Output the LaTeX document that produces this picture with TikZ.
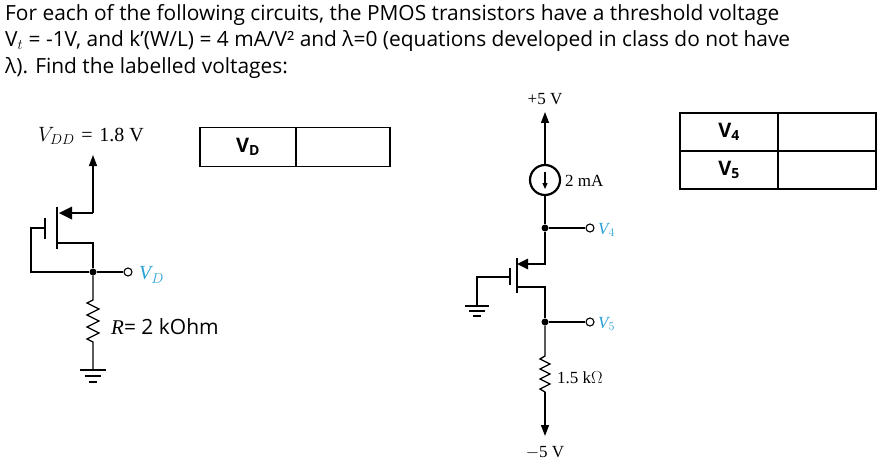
\documentclass[tikz,border=0pt]{standalone}
\usepackage{fontspec}
\setmainfont{Open Sans}
\newfontfamily\tms{Liberation Serif}
\usetikzlibrary{arrows.meta}
\definecolor{lblue}{RGB}{40,160,215}
\begin{document}
\begin{tikzpicture}[x=1pt,y=-1pt,
  wire/.style={line width=1.3pt},
  chan/.style={line width=2.8pt},
  supply/.style={wire,-{Triangle[length=11pt,width=8pt]}},
  dot/.style={circle,fill,inner sep=0pt,minimum size=7pt},
  open/.style={circle,draw,line width=1.1pt,fill=white,inner sep=0pt,minimum size=8pt},
  lbl/.style={font=\tms\fontsize{17}{19}\selectfont,inner sep=1pt},
  vlbl/.style={font=\tms\itshape\fontsize{20}{22}\selectfont,text=lblue,anchor=west,inner sep=1pt},
  hdr/.style={font=\fontsize{20.9}{24}\selectfont,anchor=west,inner sep=0pt},
  cell/.style={draw,line width=1.2pt,minimum height=39pt,font=\bfseries\fontsize{20}{22}\selectfont}]
\useasboundingbox (0,0) rectangle (886,476);
% header
\node[hdr] (h1) at (5,15) {For each of the following circuits, the PMOS transistors have a threshold voltage};
\node[hdr] (h2) at (5,41) {V$_t$ = -1V, and k’(W/L) = 4 mA/V² and λ=0 (equations developed in class do not have};
\node[hdr] (h3) at (5,68) {λ). Find the labelled voltages:};
% tables
\node[cell,minimum width=96pt] (td) at (248,147) {V$_\mathbf{D}$};
\node[cell,minimum width=94pt] (tdv) at (343,147) {};
\node[cell,minimum width=98pt,minimum height=38pt] (t4) at (729,132) {V$_\mathbf{4}$};
\node[cell,minimum width=98pt,minimum height=38pt] (t4v) at (827,132) {};
\node[cell,minimum width=98pt,minimum height=38pt] (t5) at (729,170) {V$_\mathbf{5}$};
\node[cell,minimum width=98pt,minimum height=38pt] (t5v) at (827,170) {};
% ---------- left circuit
\node[font=\tms\fontsize{20}{22}\selectfont,inner sep=1pt] (vdd) at (91,136) {$V_{DD}$\,\,=\,\,1.8 V};
\coordinate (ls) at (93,213);
\coordinate (ld) at (93,243);
\node[dot] (ln) at (93,272) {};
\node[open] (lo) at (128,272) {};
\node[vlbl] (lvd) at (138,275) {V$_D$};
\draw[supply] (ls) -- (93,155);
\draw[wire] (ls) -- (61,213);
\fill (59,213) -- (72,206.5) -- (72,219.5) -- cycle;
\draw[chan] (57,207) -- (57,249);
\draw[chan] (45,218) -- (45,239);
\draw[wire] (45,228) -- (31,228) -- (31,272) -- (ln);
\draw[wire] (57,243) -- (ld) -- (ln);
\draw[wire] (ln) -- (lo);
\draw[wire] (ln) -- (93,300) -- (87,303) -- (99,309) -- (87,315) -- (99,321) -- (87,327) -- (99,333) -- (87,339) -- (93,342) -- (93,370);
\node[anchor=west,inner sep=0pt] (lr) at (111,327) {\fontsize{21}{22}\selectfont{\tms\itshape R}= 2 kOhm};
\draw[line width=2pt] (80,370) -- (106,370) (85,376) -- (101,376) (89,382) -- (97,382);
% ---------- right circuit
\node[lbl] (p5) at (545,99) {+5 V};
\node[circle,draw,line width=2.2pt,minimum size=30pt,inner sep=0pt] (cs) at (545,180) {};
\draw[wire,-{Triangle[length=6pt,width=5pt]}] (545,172) -- (545,189);
\draw[supply] (cs.north) -- (545,112);
\node[lbl,anchor=west] (ma) at (564,181) {2 mA};
\node[dot] (n4) at (545,228) {};
\node[open] (o4) at (590,228) {};
\node[vlbl,font=\tms\itshape\fontsize{17}{19}\selectfont] (l4) at (597,230) {V$_4$};
\draw[wire] (cs.south) -- (n4) -- (545,264) -- (519,264);
\draw[wire] (n4) -- (o4);
\fill (517,264) -- (528,258.5) -- (528,269.5) -- cycle;
\draw[chan] (517,258) -- (517,293);
\draw[chan] (510,268) -- (510,285);
\draw[wire] (510,277) -- (477,277) -- (477,306);
\draw[line width=2pt] (465,306) -- (489,306) (469,311) -- (485,311) (473,316) -- (481,316);
\node[dot] (n5) at (545,322) {};
\node[open] (o5) at (590,322) {};
\node[vlbl,font=\tms\itshape\fontsize{17}{19}\selectfont] (l5) at (597,324) {V$_5$};
\draw[wire] (517,287) -- (545,287) -- (n5) -- (o5);
\draw[wire] (n5) -- (545,356) -- (540,359) -- (550,364) -- (540,369) -- (550,374) -- (540,379) -- (550,384) -- (540,389) -- (545,392) -- (545,420);
\draw[supply] (545,392) -- (545,436);
\node[lbl,anchor=west] (rk) at (556,378) {1.5 k$\Omega$};
\node[lbl] (m5) at (545,453) {$-$5 V};
\end{tikzpicture}
\end{document}
